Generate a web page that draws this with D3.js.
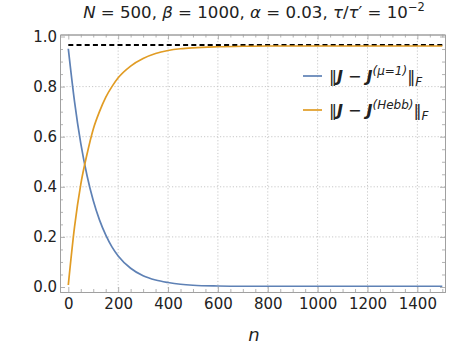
<!DOCTYPE html>
<html>
<head>
<meta charset="utf-8">
<script src="https://cdn.jsdelivr.net/npm/d3@7"></script>
<style>
  html, body { margin: 0; padding: 0; background: #fff; }
</style>
</head>
<body>
<svg id="chart" width="474" height="348"></svg>
<script>
// Iteration index n
const nValues = [0, 25, 50, 75, 100, 125, 150, 175, 200, 250, 300, 350, 400, 450, 500, 600, 700, 800, 1000, 1200, 1500];
// ||J - J^(mu=1)||_F
const distMu1 = [0.951, 0.74, 0.573, 0.445, 0.345, 0.268, 0.208, 0.160, 0.124, 0.075, 0.045, 0.028, 0.018, 0.011, 0.007, 0.004, 0.003, 0.003, 0.003, 0.003, 0.003];
// ||J - J^(Hebb)||_F
const distHebb = [0.008, 0.24, 0.41, 0.53, 0.63, 0.70, 0.757, 0.80, 0.835, 0.882, 0.912, 0.932, 0.944, 0.951, 0.955, 0.959, 0.961, 0.962, 0.962, 0.962, 0.962];
// Asymptotic reference level (dashed)
const asymptote = 0.966;

const seriesNames = ["mu1", "hebb"];
const seriesColors = ["#5E81B5", "#E19C24"];
const xTicks = [0, 200, 400, 600, 800, 1000, 1200, 1400];
const yTicks = [0.0, 0.2, 0.4, 0.6, 0.8, 1.0];

const FONT = "DejaVu Sans";
const svg = d3.select("#chart");
const frame = { left: 60, right: 445, top: 34.5, bottom: 292 };

const x = d3.scaleLinear().domain([-33.3, 1510.8]).range([frame.left, frame.right]);
const y = d3.scaleLinear().domain([-0.0199, 1.0080]).range([frame.bottom, frame.top]);

const frameColor = "#a0a0a0";

// grid lines (dotted)
const grid = svg.append("g");
grid.selectAll("line.gx").data(xTicks.filter(d => d > 0)).join("line")
  .attr("x1", d => x(d)).attr("x2", d => x(d))
  .attr("y1", frame.top).attr("y2", frame.bottom)
  .attr("stroke", "#c8c8c8").attr("stroke-width", 1).attr("stroke-dasharray", "1.2,2");
grid.selectAll("line.gy").data(yTicks.filter(d => d > 0 && d < 1)).join("line")
  .attr("x1", frame.left).attr("x2", frame.right)
  .attr("y1", d => y(d)).attr("y2", d => y(d))
  .attr("stroke", "#c8c8c8").attr("stroke-width", 1).attr("stroke-dasharray", "1.2,2");

// frame axes with inward ticks
const minorX = d3.range(0, 1501, 50).filter(d => d % 200 !== 0);
const minorY = d3.range(0, 1.001, 0.05).map(d => +d.toFixed(2)).filter(d => Math.round(d * 100) % 20 !== 0);

function styleAxis(g) {
  g.attr("font-family", FONT);
  g.select(".domain").attr("stroke", frameColor).attr("stroke-width", 1);
  g.selectAll(".tick line").attr("stroke", frameColor).attr("stroke-width", 0.8);
  g.selectAll("text").attr("font-size", 15).attr("fill", "#222");
}

// bottom
svg.append("g").attr("transform", `translate(0,${frame.bottom})`)
  .call(d3.axisBottom(x).tickValues(xTicks).tickFormat(d3.format("d"))
    .tickSizeInner(-5).tickSizeOuter(0).tickPadding(6))
  .call(styleAxis);
svg.append("g").attr("transform", `translate(0,${frame.bottom})`)
  .call(d3.axisBottom(x).tickValues(minorX).tickFormat("").tickSizeInner(-3).tickSizeOuter(0))
  .call(styleAxis);
// top
svg.append("g").attr("transform", `translate(0,${frame.top})`)
  .call(d3.axisTop(x).tickValues(xTicks).tickFormat("").tickSizeInner(-5).tickSizeOuter(0))
  .call(styleAxis);
svg.append("g").attr("transform", `translate(0,${frame.top})`)
  .call(d3.axisTop(x).tickValues(minorX).tickFormat("").tickSizeInner(-3).tickSizeOuter(0))
  .call(styleAxis);
// left
svg.append("g").attr("transform", `translate(${frame.left},0)`)
  .call(d3.axisLeft(y).tickValues(yTicks).tickFormat(d3.format(".1f"))
    .tickSizeInner(-5).tickSizeOuter(0).tickPadding(3))
  .call(styleAxis);
svg.append("g").attr("transform", `translate(${frame.left},0)`)
  .call(d3.axisLeft(y).tickValues(minorY).tickFormat("").tickSizeInner(-3).tickSizeOuter(0))
  .call(styleAxis);
// right
svg.append("g").attr("transform", `translate(${frame.right},0)`)
  .call(d3.axisRight(y).tickValues(yTicks).tickFormat("").tickSizeInner(-5).tickSizeOuter(0))
  .call(styleAxis);
svg.append("g").attr("transform", `translate(${frame.right},0)`)
  .call(d3.axisRight(y).tickValues(minorY).tickFormat("").tickSizeInner(-3).tickSizeOuter(0))
  .call(styleAxis);

// dashed asymptote
svg.append("line")
  .attr("x1", x(0)).attr("x2", x(1500))
  .attr("y1", y(asymptote)).attr("y2", y(asymptote))
  .attr("stroke", "#000").attr("stroke-width", 2).attr("stroke-dasharray", "5,3.2");

// curves
const line = d3.line().x(d => x(d[0])).y(d => y(d[1])).curve(d3.curveMonotoneX);
const seriesData = [distMu1, distHebb];
seriesData.forEach((vals, i) => {
  svg.append("path")
    .datum(nValues.map((n, j) => [n, vals[j]]))
    .attr("class", "series-" + seriesNames[i])
    .attr("fill", "none")
    .attr("stroke", seriesColors[i])
    .attr("stroke-width", 1.7)
    .attr("d", line);
});

// legend
const legend = svg.append("g");
const legendRows = [
  { y: 76, sup: "(μ=1)" },
  { y: 110, sup: "(Hebb)" }
];
legendRows.forEach((r, i) => {
  legend.append("line")
    .attr("x1", 303).attr("x2", 322).attr("y1", r.y).attr("y2", r.y)
    .attr("stroke", seriesColors[i]).attr("stroke-width", 1.7);
  const t = legend.append("text").attr("x", 329).attr("y", r.y + 6)
    .attr("font-size", 16).attr("font-family", FONT).attr("fill", "#222");
  t.append("tspan").text("‖");
  t.append("tspan").attr("font-weight", "bold").attr("font-style", "italic").text("J");
  t.append("tspan").text(" − ");
  t.append("tspan").attr("font-weight", "bold").attr("font-style", "italic").text("J");
  t.append("tspan").attr("font-size", 12).attr("font-style", "italic").attr("dy", -7).text(r.sup);
  t.append("tspan").attr("dy", 7).text("‖");
  t.append("tspan").attr("font-size", 12).attr("font-style", "italic").attr("dy", 4).text("F");
});

// title
const title = svg.append("text").attr("x", 254).attr("y", 18).attr("text-anchor", "middle")
  .attr("font-size", 16.6).attr("font-family", FONT).attr("fill", "#222");
const it = s => title.append("tspan").attr("font-style", "italic").text(s);
const rm = s => title.append("tspan").text(s);
it("N"); rm(" = 500, "); it("β"); rm(" = 1000,  "); it("α"); rm(" = 0.03,  ");
it("τ"); rm("/"); it("τ"); rm("′ = 10");
title.append("tspan").attr("font-size", 11.5).attr("dy", -7).text("−2");

// x-axis label
svg.append("text").attr("x", 254).attr("y", 341).attr("text-anchor", "middle")
  .attr("font-size", 18).attr("font-style", "italic").attr("font-family", FONT).attr("fill", "#222").text("n");
</script>
</body>
</html>
